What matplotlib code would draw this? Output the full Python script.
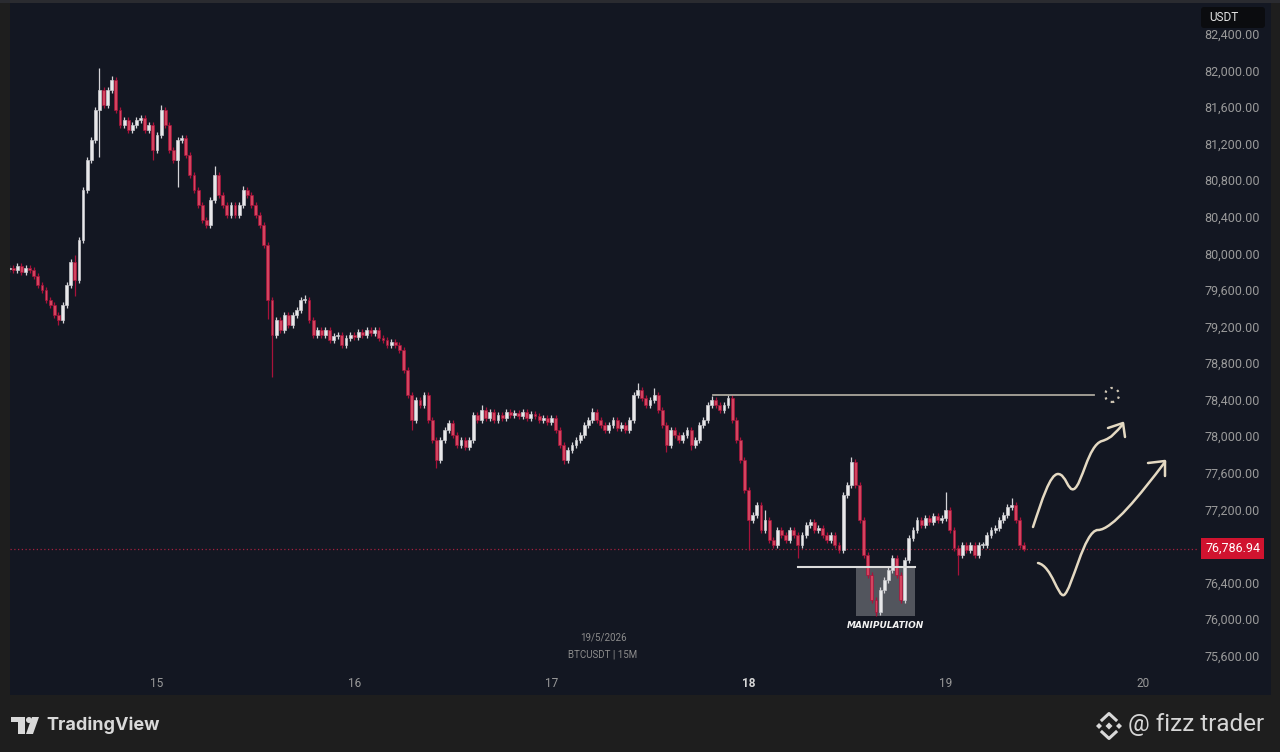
import numpy as np
import matplotlib.pyplot as plt
from matplotlib.path import Path
from matplotlib.patches import PathPatch, Polygon, Rectangle, Ellipse, Circle, FancyBboxPatch
from matplotlib.transforms import Affine2D, blended_transform_factory

W, H = 1280, 752

# --- Dados: BTCUSDT, velas de 30 min a partir de 14/5 06:00 (eixo x em dias) ---
inicio = 14.25
passo = 1 / 48
abertura_inicial = 79840
fechamentos = [
    79856, 79834, 79878, 79812, 79856, 79834, 79769, 79670, 79615, 79506,
    79451, 79342, 79287, 79451, 79670, 79922, 79725, 80162, 80709, 81038,
    81256, 81585, 81803, 81639, 81803, 81913, 81585, 81420, 81475, 81366,
    81420, 81475, 81497, 81366, 81420, 81147, 81311, 81585, 81420, 81147,
    81038, 81256, 81278, 81092, 80873, 80709, 80545, 80381, 80326, 80600,
    80873, 80655, 80545, 80436, 80545, 80436, 80545, 80709, 80655, 80545,
    80436, 80326, 80108, 79506, 79123, 79287, 79178, 79342, 79232, 79342,
    79397, 79506, 79506, 79287, 79123, 79178, 79123, 79178, 79068, 79112,
    79123, 79014, 79090, 79123, 79101, 79156, 79123, 79178, 79145, 79178,
    79090, 79068, 79014, 79046, 79014, 78959, 78740, 78467, 78193, 78412,
    78357, 78467, 78193, 77974, 77756, 77974, 78084, 78160, 78029, 77920,
    77974, 77898, 77974, 78248, 78193, 78303, 78215, 78281, 78193, 78248,
    78215, 78281, 78248, 78270, 78237, 78281, 78215, 78259, 78237, 78193,
    78215, 78171, 78215, 78084, 77920, 77756, 77865, 77920, 77974, 78029,
    78138, 78193, 78281, 78193, 78138, 78084, 78138, 78193, 78106, 78138,
    78084, 78193, 78467, 78521, 78434, 78357, 78412, 78467, 78303, 78138,
    77920, 78084, 78029, 77974, 78029, 78084, 77920, 77974, 78138, 78193,
    78357, 78412, 78357, 78303, 78357, 78434, 78193, 77974, 77756, 77427,
    77099, 77154, 77263, 76990, 77099, 76880, 76826, 76990, 76935, 76880,
    76990, 76935, 76826, 76935, 77044, 77077, 76990, 77012, 76935, 76880,
    76935, 76826, 76771, 77373, 77482, 77734, 77482, 77099, 76716, 76498,
    76224, 76093, 76333, 76443, 76552, 76684, 76498, 76224, 76662, 76902,
    76990, 77099, 77044, 77121, 77077, 77143, 77099, 77121, 77209, 76990,
    76793, 76716, 76826, 76771, 76826, 76716, 76826, 76826, 76935, 76990,
    77012, 77099, 77154, 77241, 77263, 77099, 76826, 76786.94,
]
# pavios longos (índice da vela: preço)
maximas_lidas = {16: 79998, 22: 82044, 25: 81955, 37: 81639, 50: 80972, 57: 80753,
                 72: 79561, 115: 78357, 142: 78324, 153: 78598, 157: 78543,
                 171: 78460, 175: 78467, 184: 77208, 205: 77788, 228: 77406, 244: 77340}
minimas_lidas = {12: 79232, 16: 79550, 22: 81070, 35: 81038, 41: 80742, 48: 80294,
                 63: 79300, 64: 78664, 98: 78084, 104: 77668, 135: 77712, 160: 77843,
                 166: 77865, 180: 76771, 192: 76684, 211: 76049, 217: 76191, 231: 76498}
pavio_padrao = 30

preco_atual = 76786.94
nivel_topo = 78467
nivel_topo_ini, nivel_topo_fim = 17.8195, 19.7515
nivel_fundo = 76585
nivel_fundo_ini, nivel_fundo_fim = 18.2505, 18.844
caixa_ini, caixa_fim, caixa_min = 18.5446, 18.844, 76049
alvo_dia = 19.843

dias = [15, 16, 17, 18, 19, 20]
precos_eixo = list(range(75600, 82401, 400))

# --- velas ---
c = np.array(fechamentos, dtype=float)
o = np.r_[abertura_inicial, c[:-1]]
t = inicio + np.arange(len(c)) * passo
hi = np.maximum(o, c) + pavio_padrao
lo = np.minimum(o, c) - pavio_padrao
for k, v in maximas_lidas.items():
    hi[k] = max(v, o[k], c[k])
for k, v in minimas_lidas.items():
    lo[k] = min(v, o[k], c[k])
alta = c >= o

fig = plt.figure(figsize=(W / 100, H / 100), dpi=100, facecolor='#1e1e1e')
pix = Affine2D().scale(1 / W, -1 / H).translate(0, 1) + fig.transFigure

ax = fig.add_axes([10 / W, (H - 695) / H, (1271 - 10) / W, (695 - 3) / H])
ax.set_facecolor('#131722')
ax.set_xlim(14.2546, 20.649)
ax.set_ylim(75185, 82755)
for s in ax.spines.values():
    s.set_visible(False)
ax.set_xticks([])
ax.set_yticks([])

cor_pavio = np.where(alta, '#d4d4d8', '#a8123a')
cor_corpo = np.where(alta, '#e8e8ea', '#d4445f')
cor_borda = np.where(alta, '#c8c8cc', '#a8123a')
ax.vlines(t, lo, hi, colors=cor_pavio, linewidth=0.9, zorder=3)
ax.bar(t, np.maximum(np.abs(c - o), 8), width=0.0145, bottom=np.minimum(o, c),
       color=cor_corpo, edgecolor=cor_borda, linewidth=0.5, zorder=4)

# linha do preço atual
x_label = 15 + (1197 - 157) / 197.2
ax.plot([14.2546, x_label], [preco_atual, preco_atual], color='#a3213f',
        linestyle=(0, (1, 2)), linewidth=0.9, zorder=2)

# níveis e caixa de manipulação
ax.plot([nivel_topo_ini, nivel_topo_fim], [nivel_topo, nivel_topo], color='#aaa69c', lw=1.3, zorder=5)
ax.plot([nivel_fundo_ini, nivel_fundo_fim], [nivel_fundo, nivel_fundo], color='#dcdcdc', lw=1.5, zorder=5)
ax.add_patch(Rectangle((caixa_ini, caixa_min), caixa_fim - caixa_ini, nivel_fundo - caixa_min,
                       facecolor=(1, 1, 1, 0.27), edgecolor='none', zorder=2))
ax.text((caixa_ini + caixa_fim) / 2, 75940, 'MANIPULATION', color='#f2f2f2', fontsize=6.5,
        fontweight='bold', fontstyle='italic', ha='center', va='center', zorder=6)
ax.add_patch(Ellipse((alvo_dia, nivel_topo), 14 / 197.2, 14 * 10.94, fill=False,
                     edgecolor='#cfc6b4', lw=1.6, linestyle=(0, (1, 2.2)), zorder=6))

# eixo de preços
tr_y = blended_transform_factory(ax.transAxes, ax.transData)
for p in precos_eixo:
    ax.text(0.9913, p, f'{p:,.2f}', transform=tr_y, ha='right', va='center',
            color='#9a9a9a', fontsize=9, family='Roboto', zorder=6)
ax.text(0.9913, preco_atual, f'{preco_atual:,.2f}', transform=tr_y, ha='right', va='center',
        color='white', fontsize=9, family='Roboto', zorder=8,
        bbox=dict(boxstyle='square,pad=0.33', fc='#d0132f', ec='none'))

# eixo de datas
tr_x = blended_transform_factory(ax.transData, ax.transAxes)
for d in dias:
    destaque = d == 18
    ax.text(d, 0.0173, str(d), transform=tr_x, ha='center', va='center',
            color='#d8d8d8' if destaque else '#9a9a9a', fontsize=8.5,
            fontweight='bold' if destaque else 'normal', family='Roboto')
ax.text(17.2617, 0.0824, '19/5/2026', transform=tr_x, ha='center', va='center',
        color='#8c8c8c', fontsize=7, family='Roboto')
ax.text(17.2617, 0.0592, 'BTCUSDT | 15M', transform=tr_x, ha='center', va='center',
        color='#8c8c8c', fontsize=7, family='Roboto')

# caixa USDT
fig.patches.append(FancyBboxPatch((1201, 7), 64, 21, boxstyle='round,pad=0,rounding_size=3',
                                  fc='#0b0c0f', ec='none', transform=pix, zorder=10))
fig.text(1209 / W, 1 - 17.5 / H, 'USDT', color='#e4e4e4', fontsize=8.5, family='Roboto',
         ha='left', va='center', zorder=11)

# setas desenhadas
cor_seta = '#e4d9c2'
M, C4 = Path.MOVETO, Path.CURVE4
seta1 = [(1033, 527), (1042, 500), (1050, 474), (1058, 474), (1066, 474), (1068, 492), (1074, 489),
         (1082, 485), (1088, 445), (1102, 441), (1112, 438), (1116, 432), (1123, 424)]
seta2 = [(1038, 563), (1052, 566), (1058, 598), (1064, 595), (1072, 590), (1084, 530), (1098, 530),
         (1112, 530), (1140, 495), (1165, 462)]
for pts in (seta1, seta2):
    codes = [M] + [C4] * (len(pts) - 1)
    fig.patches.append(PathPatch(Path(pts, codes), fill=False, ec=cor_seta, lw=1.8,
                                 capstyle='round', transform=pix, zorder=10))
for cab in ([(1108, 428), (1123, 423), (1125, 437)], [(1148, 463), (1165, 461), (1165, 476)]):
    xs, ys = zip(*cab)
    fig.lines.append(plt.Line2D(xs, ys, color=cor_seta, lw=1.8, solid_capstyle='round',
                                solid_joinstyle='round', transform=pix, zorder=10))

# faixa superior
fig.patches.append(Rectangle((0, 0), W, 3, fc='#2a2b30', ec='none', transform=pix, zorder=1))

# logo TradingView
cor_logo = '#d9d9d9'
fig.patches.append(Rectangle((11, 717), 14, 5, fc=cor_logo, ec='none', transform=pix))
fig.patches.append(Rectangle((18, 717), 7, 17, fc=cor_logo, ec='none', transform=pix))
fig.patches.append(Circle((29, 720), 3, fc=cor_logo, ec='none', transform=pix))
fig.patches.append(Polygon([(32, 717), (39, 717), (33, 734), (26, 734)], fc=cor_logo, ec='none', transform=pix))
fig.text(46 / W, 1 - 725 / H, 'TradingView', color=cor_logo, fontsize=13, fontweight='bold',
         family='Inter', ha='left', va='center')

# marca d'água binance + texto
cx, cy = 1109, 726
for dx, r in [(0, 3.5), (-10, 3), (10, 3)]:
    fig.patches.append(Polygon([(cx + dx - r, cy), (cx + dx, cy - r), (cx + dx + r, cy),
                                (cx + dx, cy + r)], fc=cor_logo, ec='none', transform=pix))
for sinal in (-1, 1):
    fig.lines.append(plt.Line2D([cx - 7, cx, cx + 7], [cy + sinal * 6, cy + sinal * 12.5, cy + sinal * 6],
                                color=cor_logo, lw=2.2, transform=pix))
fig.text(1128 / W, 1 - 725 / H, '@ fizz trader', color='#d6d6d6', fontsize=17.5,
         family='Roboto', ha='left', va='center')

fig.savefig('out.png', dpi=100, facecolor=fig.get_facecolor())
